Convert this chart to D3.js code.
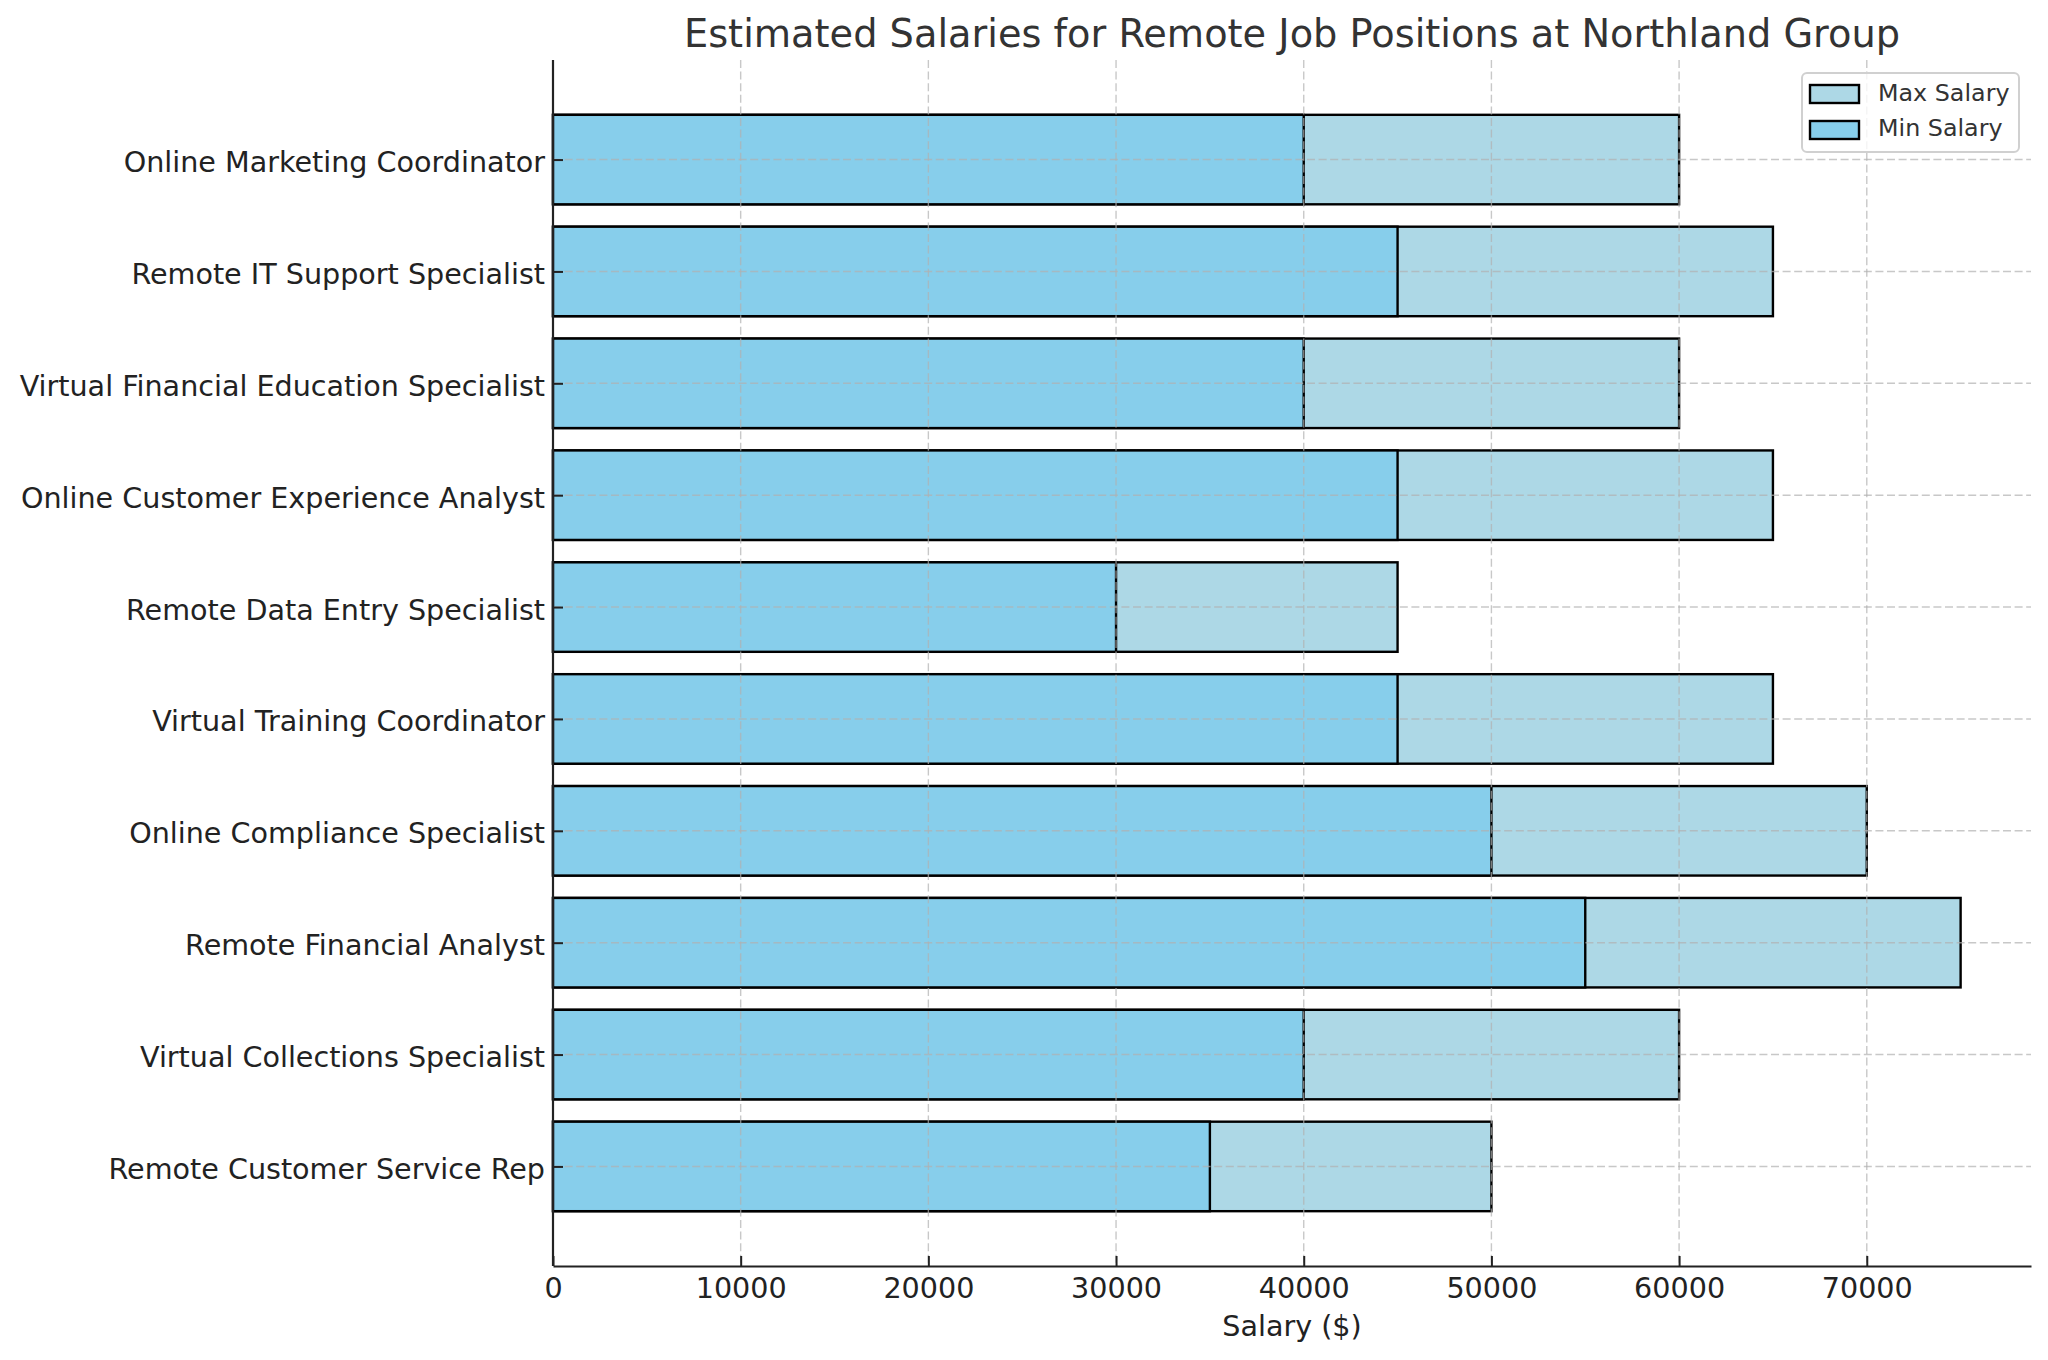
<!DOCTYPE html>
<html><head><meta charset="utf-8">
<script src="https://cdn.jsdelivr.net/npm/d3@7"></script>
<style>body{margin:0;background:#fff}svg{display:block;font-family:"DejaVu Sans",sans-serif}</style>
</head><body>
<script>
const jobs = ["Remote Customer Service Rep","Virtual Collections Specialist","Remote Financial Analyst","Online Compliance Specialist","Virtual Training Coordinator","Remote Data Entry Specialist","Online Customer Experience Analyst","Virtual Financial Education Specialist","Remote IT Support Specialist","Online Marketing Coordinator"];
const minSalary = [35000,40000,55000,50000,45000,30000,45000,40000,45000,40000];
const maxSalary = [50000,60000,75000,70000,65000,45000,65000,60000,65000,60000];
const xTicks = [0,10000,20000,30000,40000,50000,60000,70000];
const title = "Estimated Salaries for Remote Job Positions at Northland Group";
const xLabel = "Salary ($)";
const seriesNames = ["Max Salary","Min Salary"];
const colors = {max:"#ADD8E6", min:"#87CEEB"};

const W=2048,H=1360;
const L=553,R=2031,T=60,B=1266;
const svg=d3.select("body").append("svg").attr("width",W).attr("height",H);
const xMax=d3.max(maxSalary)*1.05;
const x=d3.scaleLinear().domain([0,xMax]).range([L,R]);
const n=jobs.length, bw=0.8, pad=(n-1+bw)*0.05;
const y=d3.scaleLinear().domain([-bw/2-pad,n-1+bw/2+pad]).range([B,T]);
const bh=y(0)-y(bw);
const idx=d3.range(n);

svg.append("g").selectAll("rect").data(idx).join("rect")
  .attr("x",x(0)).attr("y",i=>y(i+bw/2)).attr("width",i=>x(maxSalary[i])-x(0)).attr("height",bh)
  .attr("fill",colors.max).attr("stroke","#000").attr("stroke-width",2.4);
svg.append("g").selectAll("rect").data(idx).join("rect")
  .attr("x",x(0)).attr("y",i=>y(i+bw/2)).attr("width",i=>x(minSalary[i])-x(0)).attr("height",bh)
  .attr("fill",colors.min).attr("stroke","#000").attr("stroke-width",2.4);

const grid=svg.append("g").attr("stroke","#b0b0b0").attr("stroke-opacity",0.7).attr("stroke-width",1.4).attr("stroke-dasharray","8,3.6");
grid.selectAll("line.v").data(xTicks.slice(1)).join("line").attr("class","v")
  .attr("x1",d=>x(d)).attr("x2",d=>x(d)).attr("y1",T).attr("y2",B);
grid.selectAll("line.h").data(idx).join("line").attr("class","h")
  .attr("x1",L).attr("x2",R).attr("y1",i=>y(i)).attr("y2",i=>y(i));

const xAxis=d3.axisBottom(x).tickValues(xTicks).tickFormat(d3.format("d")).tickSizeInner(-10).tickSizeOuter(0).tickPadding(12);
const gx=svg.append("g").attr("transform",`translate(0,${B})`).call(xAxis);
gx.select(".domain").attr("stroke","#222").attr("stroke-width",2.2);
gx.selectAll(".tick line").attr("stroke","#222").attr("stroke-width",2);
gx.selectAll(".tick text").attr("font-size",28.6).attr("fill","#222").attr("font-family","DejaVu Sans");

const yAxis=d3.axisLeft(y).tickValues(idx).tickFormat(i=>jobs[i]).tickSizeInner(-10).tickSizeOuter(0).tickPadding(8);
const gy=svg.append("g").attr("transform",`translate(${L},0)`).call(yAxis);
gy.select(".domain").attr("stroke","#222").attr("stroke-width",2.2).attr("d",`M0,${T}V${B}`);
gy.selectAll(".tick line").attr("stroke","#222").attr("stroke-width",2);
gy.selectAll(".tick text").attr("font-size",28.6).attr("fill","#222").attr("font-family","DejaVu Sans").attr("dy","0.42em");

svg.append("text").attr("x",(L+R)/2).attr("y",1336).attr("text-anchor","middle")
  .attr("font-size",28.6).attr("fill","#222").text(xLabel);
svg.append("text").attr("x",(L+R)/2).attr("y",47).attr("text-anchor","middle")
  .attr("font-size",38.3).attr("fill","#333").text(title);

const lg=svg.append("g");
lg.append("rect").attr("x",1802).attr("y",73).attr("width",217).attr("height",79).attr("rx",5)
  .attr("fill","#fff").attr("fill-opacity",0.8).attr("stroke","#d0d0d0").attr("stroke-width",2);
[["max",0],["min",1]].forEach(([k,j])=>{
  lg.append("rect").attr("x",1810).attr("y",85+j*36).attr("width",49).attr("height",18)
    .attr("fill",colors[k]).attr("stroke","#000").attr("stroke-width",2.4);
  lg.append("text").attr("x",1878).attr("y",101+j*35).attr("font-size",23.8).attr("fill","#333").text(seriesNames[j]);
});
</script>
</body></html>
